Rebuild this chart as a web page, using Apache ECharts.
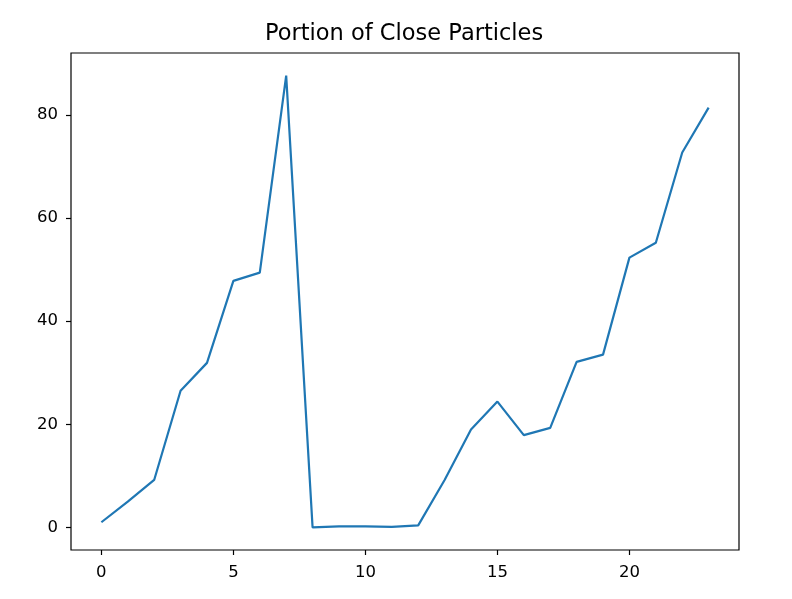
<!DOCTYPE html>
<html>
<head>
<meta charset="utf-8">
<script src="https://cdn.jsdelivr.net/npm/echarts@6/dist/echarts.min.js"></script>
<style>html,body{margin:0;padding:0;background:#fff}#c{width:792px;height:599px}</style>
</head>
<body>
<div id="c"></div>
<script>
const titleText = "Portion of Close Particles";
const steps = [0,1,2,3,4,5,6,7,8,9,10,11,12,13,14,15,16,17,18,19,20,21,22,23];
const portion = [1.0,5.0,9.2,26.5,31.9,47.8,49.4,87.6,0.0,0.2,0.2,0.1,0.4,9.2,19.0,24.4,17.9,19.3,32.1,33.5,52.3,55.2,72.7,81.4];
const xTicks = [0,5,10,15,20];
const yTicks = [0,20,40,60,80];

const chart = echarts.init(document.getElementById('c'), null, {renderer:'canvas'});
const font = 'DejaVu Sans';
chart.setOption({
  animation:false,
  backgroundColor:'#fff',
  title:{text:titleText,left:260,top:18,textStyle:{fontFamily:font,fontSize:22.5,fontWeight:'normal',color:'#000'}},
  grid:{left:71,right:53,top:53,bottom:49,show:true,borderColor:'#000',borderWidth:1.2},
  xAxis:{type:'value',min:-1.15,max:24.15,
    axisLine:{show:false,onZero:false},splitLine:{show:false},
    axisTick:{show:true,inside:false,length:5,lineStyle:{color:'#000',width:1.2},customValues:xTicks},
    axisLabel:{fontFamily:font,fontSize:16.5,color:'#000',margin:14,customValues:xTicks}},
  yAxis:{type:'value',min:-4.38,max:91.98,
    axisLine:{show:false,onZero:false},splitLine:{show:false},
    axisTick:{show:true,inside:false,length:5,lineStyle:{color:'#000',width:1.2},customValues:yTicks},
    axisLabel:{fontFamily:font,fontSize:16.5,color:'#000',margin:13,customValues:yTicks}},
  series:[{type:'line',data:steps.map((s,i)=>[s,portion[i]]),showSymbol:false,
    lineStyle:{color:'#1f77b4',width:2.2},itemStyle:{color:'#1f77b4'}}]
});
</script>
</body>
</html>
